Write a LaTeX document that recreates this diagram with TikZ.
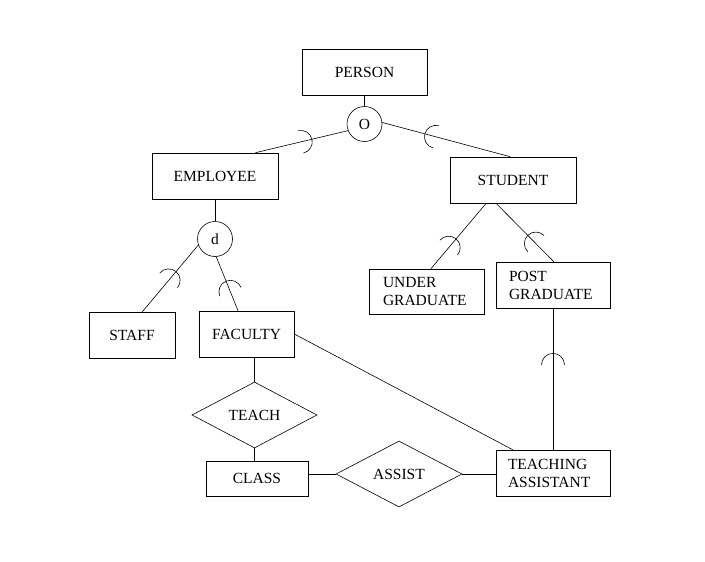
\documentclass[tikz,border=0pt]{standalone}
\usepackage{fontspec}
\setmainfont{Liberation Serif}
\usetikzlibrary{shapes.geometric,decorations.markings}
\tikzset{
  ent/.style={draw, rectangle, line width=0.6pt, inner sep=0pt, minimum height=46pt,
    font=\fontsize{15.5}{18}\selectfont},
  ent2/.style={draw, rectangle, line width=0.6pt, inner ysep=0pt, inner xsep=#1pt, minimum height=46pt,
    align=left, font=\fontsize{15.5}{18}\selectfont},
  rel/.style={draw, diamond, line width=0.6pt, inner sep=0pt, minimum width=125pt, minimum height=66pt,
    font=\fontsize{15.5}{18}\selectfont},
  spec/.style={draw, circle, line width=0.6pt, inner sep=0pt, minimum size=35pt,
    font=\fontsize{15.5}{18}\selectfont},
  conn/.style={line width=0.6pt},
  subset/.style={postaction={decorate, decoration={markings,
    mark=at position #1 with {\draw[line width=0.6pt] (0,11.5) arc[start angle=90, end angle=270, radius=11.5];}}}}
}
\begin{document}
\begin{tikzpicture}[x=1pt,y=-1pt]
\useasboundingbox (0,0) rectangle (705,562);
% entities
\node[ent, minimum width=125pt] (per) at (364.5,72) {PERSON};
\node[spec] (O) at (364.5,124) {O};
\node[ent, minimum width=126pt] (emp) at (215,176) {EMPLOYEE};
\node[ent, minimum width=126pt] (stu) at (513,180) {STUDENT};
\node[spec] (d) at (215,239) {d};
\node[ent, minimum width=86pt] (staff) at (132,335) {STAFF};
\node[ent, minimum width=95pt] (fac) at (246.5,334) {FACULTY};
\node[ent2=14, text width=87pt, minimum height=45pt] (ug) at (426.5,291.5) {UNDER\\GRADUATE};
\node[ent2=13, text width=88pt] (pg) at (553,285) {POST\\GRADUATE};
\node[ent2=12, text width=90pt] (ta) at (553,473) {TEACHING\\ASSISTANT};
\node[rel] (teach) at (254.5,415) {TEACH};
\node[ent, minimum width=102pt, minimum height=35pt] (class) at (257,478.5) {CLASS};
\node[rel, minimum width=126pt] (assist) at (399,474) {ASSIST};
% connectors
\draw[conn] (per) -- (O);
\draw[conn, subset=0.51] (O.202) -- (emp.30);
\draw[conn, subset=0.42] (O.5) -- (stu.97);
\draw[conn] (emp) -- (d);
\draw[conn, subset=0.53] (d.200) -- (staff.66);
\draw[conn, subset=0.65] (d.274) -- (fac.110);
\draw[conn, subset=0.68] (stu.221) -- (ug.79);
\draw[conn, subset=0.69] (stu.234) -- (pg.88);
\draw[conn, subset=0.40] (pg) -- (ta);
\draw[conn] (fac.east) -- (ta.150);
\draw[conn] (fac.south -| teach.north) -- (teach.north);
\draw[conn] (teach.south) -- (teach.south |- class.north);
\draw[conn] (assist.west -| class.east) -- (assist.west);
\draw[conn] (assist.east) -- (assist.east -| ta.west);
\end{tikzpicture}
\end{document}
